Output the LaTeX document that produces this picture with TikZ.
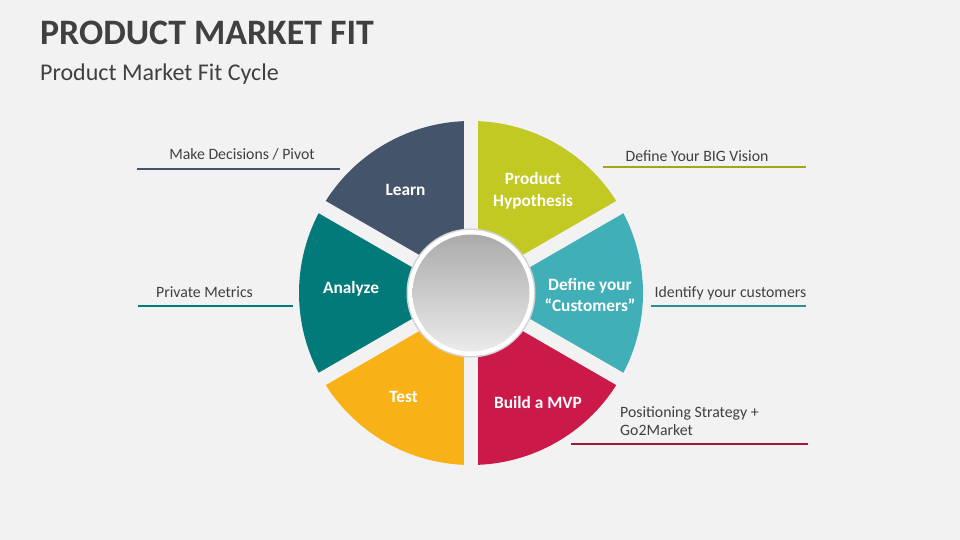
\documentclass[tikz,border=0pt]{standalone}
\usepackage{fontspec}
\setmainfont{Carlito}
\definecolor{bgc}{HTML}{F2F2F2}
\definecolor{cLearn}{HTML}{44546A}
\definecolor{cHyp}{HTML}{C2C923}
\definecolor{cDef}{HTML}{41AFB8}
\definecolor{cBuild}{HTML}{CB1A4A}
\definecolor{cTest}{HTML}{F8B218}
\definecolor{cAna}{HTML}{027A79}
\definecolor{txt}{HTML}{404040}
\definecolor{lHyp}{HTML}{A3A51B}
\definecolor{lDef}{HTML}{2E8C94}
\definecolor{lBuild}{HTML}{A3173F}
\begin{document}
\begin{tikzpicture}[x=1pt,y=-1pt,
  seglabel/.style={text=white,font=\fontsize{17.3}{21}\selectfont\bfseries,inner sep=0,anchor=base},
  side/.style={text=txt,font=\fontsize{15.8}{19}\selectfont,inner sep=0,anchor=base},
  uline/.style={line width=2pt},
  gapline/.style={bgc,line width=14pt}]
\useasboundingbox (0,0) rectangle (960,540);
\fill[bgc] (0,0) rectangle (960,540);
% titles
\node[text=txt,font=\fontsize{35.8}{42}\selectfont\bfseries,inner sep=0,anchor=base west] (title) at (40,45) {PRODUCT MARKET FIT};
\node[text=txt,font=\fontsize{24}{29}\selectfont,inner sep=0,anchor=base west] (subtitle) at (40,81) {Product Market Fit Cycle};
% wheel
\coordinate (C) at (471,293);
\def\R{172}
\fill[cLearn] (C) -- ++(-90:\R) arc[start angle=-90,end angle=-150,radius=\R] -- cycle;
\fill[cAna] (C) -- ++(-150:\R) arc[start angle=-150,end angle=-210,radius=\R] -- cycle;
\fill[cTest] (C) -- ++(-210:\R) arc[start angle=-210,end angle=-270,radius=\R] -- cycle;
\fill[cBuild] (C) -- ++(90:\R) arc[start angle=90,end angle=30,radius=\R] -- cycle;
\fill[cDef] (C) -- ++(30:\R) arc[start angle=30,end angle=-30,radius=\R] -- cycle;
\fill[cHyp] (C) -- ++(-30:\R) arc[start angle=-30,end angle=-90,radius=\R] -- cycle;
\draw[gapline] (C) ++(-90:190) -- ++(90:380);
\draw[gapline] (C) ++(-30:190) -- ++(150:380);
\draw[gapline] (C) ++(-150:190) -- ++(30:380);
% center
\fill[gray!35] (C) circle (64.5);
\fill[white] (C) circle (63);
\shade[top color=black!33,bottom color=black!8] (C) circle (58.5);
% segment labels
\node[seglabel] (learn) at (405.5,196) {Learn};
\node[seglabel] (hyp1) at (533,185) {Product};
\node[seglabel] (hyp2) at (533,206) {Hypothesis};
\node[seglabel] (ana) at (351,293) {Analyze};
\node[seglabel] (def1) at (590,290) {Define your};
\node[seglabel] (def2) at (590,311) {“Customers”};
\node[seglabel] (test) at (403.5,402) {Test};
\node[seglabel] (build) at (538,408) {Build a MVP};
% side notes
\node[side] (n1) at (242,160) {Make Decisions / Pivot};
\coordinate (n1a) at (137,169); \coordinate (n1b) at (340,169);
\draw[uline,cLearn] (n1a) -- (n1b);
\node[side] (n2) at (204.5,297) {Private Metrics};
\coordinate (n2a) at (138,305.5); \coordinate (n2b) at (293,305.5);
\draw[uline,cAna] (n2a) -- (n2b);
\node[side] (n3) at (697,161) {Define Your BIG Vision};
\coordinate (n3a) at (603,167.5); \coordinate (n3b) at (806,167.5);
\draw[uline,lHyp] (n3a) -- (n3b);
\node[side] (n4) at (730.5,297) {Identify your customers};
\coordinate (n4a) at (651,305.5); \coordinate (n4b) at (806,305.5);
\draw[uline,lDef] (n4a) -- (n4b);
\node[side,anchor=base west] (n5) at (620,417) {Positioning Strategy +};
\node[side,anchor=base west] (n6) at (620,435) {Go2Market};
\coordinate (n5a) at (571,444); \coordinate (n5b) at (808,444);
\draw[uline,lBuild] (n5a) -- (n5b);
\end{tikzpicture}
\end{document}
